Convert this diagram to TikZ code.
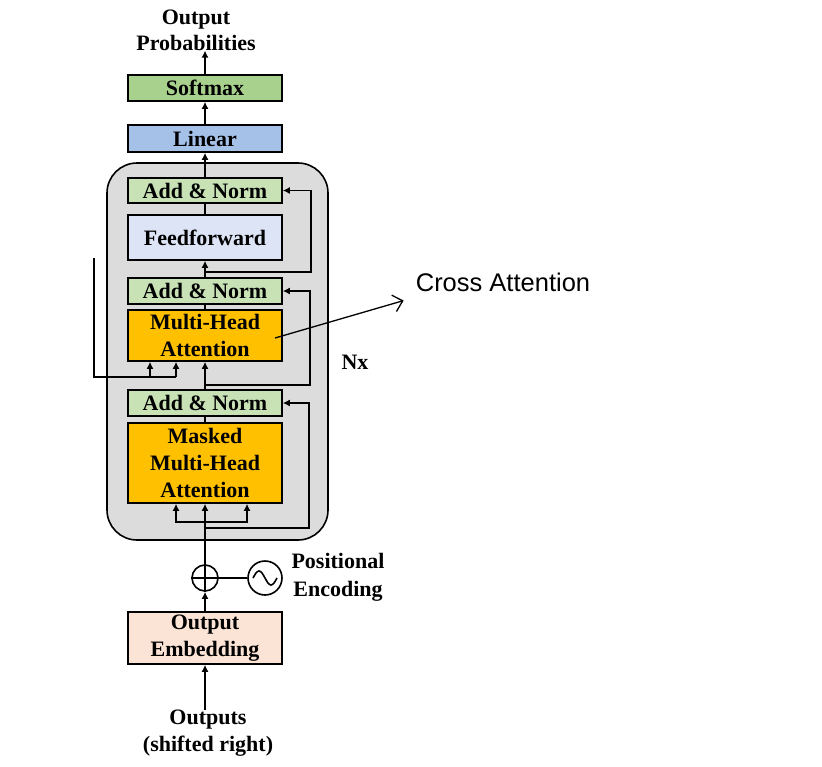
\documentclass[tikz,border=0pt]{standalone}
\usepackage{fontspec}
\setmainfont{Liberation Serif}
\newfontfamily\labelfont{Liberation Sans}
\usetikzlibrary{arrows,arrows.meta,shapes,positioning}
\definecolor{softgreen}{RGB}{169,209,142}
\definecolor{linblue}{RGB}{166,193,232}
\definecolor{normgreen}{RGB}{200,226,182}
\definecolor{ffblue}{RGB}{220,228,245}
\definecolor{attnorange}{RGB}{255,192,0}
\definecolor{embpeach}{RGB}{251,228,214}
\definecolor{stackgray}{RGB}{220,220,220}

\begin{document}
\begin{tikzpicture}[x=1pt,y=-1pt]
                \tikzstyle{every node}+=[inner sep=0pt, font=\fontsize{22}{27}\selectfont\bfseries]
                \tikzstyle{blk}=[draw=black, line width=1.6pt, minimum width=154pt, align=center]
                \tikzstyle{arr}=[black, line width=1.6pt, -{Latex[length=7pt,width=7pt]}]
                \tikzstyle{ln}=[black, line width=1.6pt]
                \useasboundingbox (0,0) rectangle (822,766);
                \draw [ln, fill=stackgray, rounded corners=30pt] (107,163) rectangle (328,540);
                \node [align=center, font=\fontsize{22}{26}\selectfont\bfseries] (prob) at (196,30) {Output\\Probabilities};
                \node [blk, fill=softgreen, minimum height=26pt] (softmax) at (205,88) {Softmax};
                \node [blk, fill=linblue, minimum height=27pt] (linear) at (205,138.5) {Linear};
                \node [blk, fill=normgreen, minimum height=25pt] (norm1) at (205,190.5) {Add \& Norm};
                \node [blk, fill=ffblue, minimum height=45pt] (ff) at (205,237.5) {Feedforward};
                \node [blk, fill=normgreen, minimum height=26pt] (norm2) at (205,291) {Add \& Norm};
                \node [blk, fill=attnorange, minimum height=51pt] (mha) at (205,335.5) {Multi-Head\\Attention};
                \node [blk, fill=normgreen, minimum height=26pt] (norm3) at (205,403) {Add \& Norm};
                \node [blk, fill=attnorange, minimum height=80pt] (mmha) at (205,463) {Masked\\Multi-Head\\Attention};
                \node (nx) at (355,362) {Nx};
                \node [draw, ln, circle, minimum size=26pt] (plus) at (205,578) {};
                \node [draw, ln, circle, minimum size=34pt] (pe) at (265,578) {};
                \node [align=center, font=\fontsize{22}{28}\selectfont\bfseries] (pelabel) at (338,577) {Positional\\Encoding};
                \node [blk, fill=embpeach, minimum height=52pt] (emb) at (205,638) {Output\\Embedding};
                \node [align=center, font=\fontsize{22}{27}\selectfont\bfseries] (outputs) at (208,733) {Outputs\\(shifted right)};
                \node [font=\fontsize{25.5}{28}\selectfont\labelfont] (cross) at (503,282) {Cross Attention};
                \coordinate (split1) at (205,522);
                \coordinate (skip1) at (205,528);
                \coordinate (skip2) at (205,385);
                \coordinate (skip3) at (205,272);
                \coordinate (encin) at (94,258);
                \coordinate (keyin) at (150,377);
                \coordinate (valin) at (176,377);
                \draw [arr] (emb.south |- outputs.north) -- (emb.south);
                \draw [arr] (emb.north) -- (plus.south);
                \draw [ln] (plus.north) -- (plus.south) (plus.west) -- (plus.east);
                \draw [ln] (plus.east) -- (pe.west);
                \draw [ln] ([xshift=-12pt]pe.center) sin ++(6,-7) cos ++(6,7) sin ++(6,7) cos ++(6,-7);
                \draw [arr] (plus.north) -- (mmha.south);
                \draw [arr] (split1) -| ([xshift=-29pt]mmha.south);
                \draw [arr] (split1) -| ([xshift=42pt]mmha.south);
                \draw [arr] (skip1) -| ([xshift=26pt]norm3.east) -- (norm3.east);
                \draw [ln] (mmha.north) -- (norm3.south);
                \draw [arr] (norm3.north) -- (mha.south);
                \draw [arr] (skip2) -| ([xshift=27pt]norm2.east) -- (norm2.east);
                \draw [ln] (encin) |- (valin);
                \draw [arr] (keyin) -- (keyin |- mha.south);
                \draw [arr] (valin) -- (valin |- mha.south);
                \draw [ln] (mha.north) -- (norm2.south);
                \draw [arr] (norm2.north) -- (ff.south);
                \draw [arr] (skip3) -| ([xshift=28pt]norm1.east) -- (norm1.east);
                \draw [ln] (ff.north) -- (norm1.south);
                \draw [arr] (norm1.north) -- (linear.south);
                \draw [arr] (linear.north) -- (softmax.south);
                \draw [arr] (softmax.north) -- (softmax.north |- prob.south);
                \draw [black, line width=1.3pt, -{Straight Barb[length=9pt,width=17pt]}] ([xshift=70pt,yshift=-2.5pt]mha.center) -- ([xshift=-12pt,yshift=-9pt]cross.south west);
            \end{tikzpicture}
\end{document}
